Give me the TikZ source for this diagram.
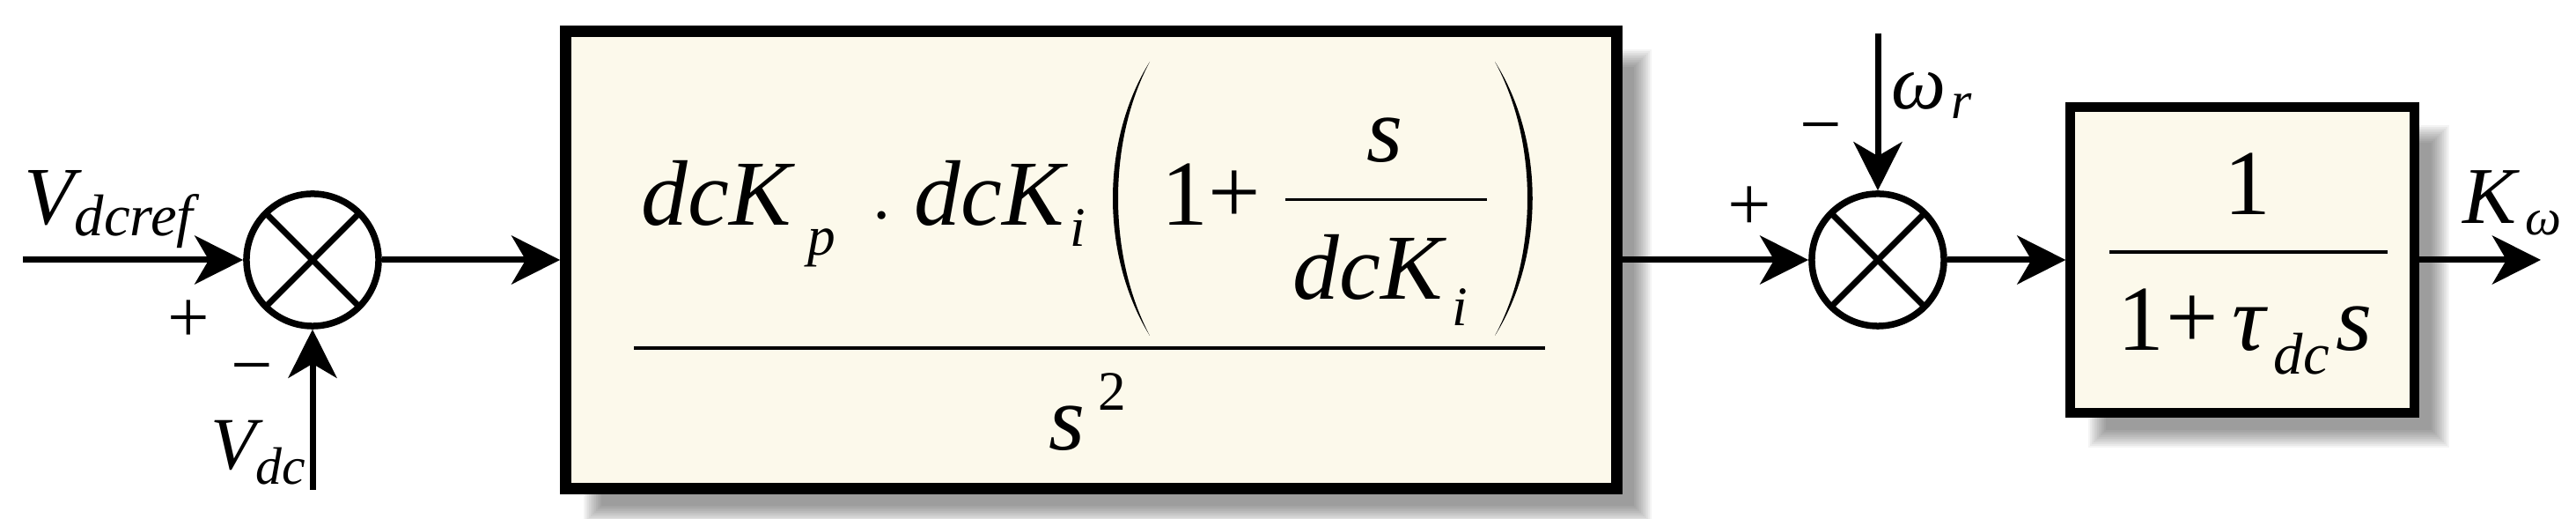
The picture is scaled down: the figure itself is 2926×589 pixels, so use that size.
\documentclass[tikz,border=0pt]{standalone}
\usepackage{fontspec}
\setmainfont{LiberationSerif}[Extension=.ttf,UprightFont=*-Regular,ItalicFont=*-Italic,BoldFont=*-Bold,BoldItalicFont=*-BoldItalic]
\usetikzlibrary{arrows.meta,calc}
\definecolor{cream}{HTML}{FCF9EB}
\newcommand\myfs[1]{\fontsize{#1}{#1}\selectfont}
\begin{document}
\begin{tikzpicture}[x=0.01cm,y=-0.01cm,
  conn/.style={line width=0.07cm,-{Stealth[length=0.55cm,width=0.55cm,inset=0.16cm]}},
  sumnode/.style={circle,draw,line width=0.075cm,minimum size=1.5cm,inner sep=0,fill=white},
  blk/.style={rectangle,draw,fill=cream,inner sep=0},
  t/.style={inner sep=0,anchor=base west},
  tc/.style={inner sep=0,anchor=base},
  var/.style={t,font=\myfs{30}\itshape},
  sub/.style={t,font=\myfs{18}\itshape},
  bar/.style={line width=0.045cm}]
\useasboundingbox (0,0) rectangle (2926,589);
% shadows
\foreach \e in {-10,-8,...,10}{
  \fill[black,opacity=0.045] ({673-(\e)},{66-(\e)}) rectangle ({1866+(\e)},{584+(\e)});
  \fill[black,opacity=0.045] ({2382-(\e)},{152-(\e)}) rectangle ({2772+(\e)},{498+(\e)});
}
% blocks
\node[blk,line width=0.13cm,minimum width=11.93cm,minimum height=5.18cm] (b1) at (1239.5,295) {};
\node[blk,line width=0.11cm,minimum width=3.9cm,minimum height=3.46cm] (b2) at (2547,295) {};
% summing junctions
\node[sumnode] (s1) at (355,295) {};
\node[sumnode] (s2) at (2133,295) {};
\foreach \s in {s1,s2}{
  \draw[line width=0.07cm] ($(\s.center)+(45:75)$) -- ($(\s.center)+(225:75)$);
  \draw[line width=0.07cm] ($(\s.center)+(135:75)$) -- ($(\s.center)+(315:75)$);
}
% free ends
\coordinate (in) at (26,295);
\coordinate (vdcin) at (355,556);
\coordinate (wrin) at (2133,38);
\coordinate (out) at (2886,295);
% connectors
\draw[conn] (in) -- (s1);
\draw[conn] (vdcin) -- (s1);
\draw[conn] (s1) -- (b1);
\draw[conn] (b1) -- (s2);
\draw[conn] (wrin) -- (s2);
\draw[conn] (s2) -- (b2);
\draw[conn] (b2) -- (out);
% left labels
\node[t,font=\myfs{26.5}\itshape] (vref) at (27,255) {V};
\node[t,font=\myfs{19}\itshape] (vrefs) at (84,268) {dcref};
\node[inner sep=0,font=\myfs{24}] (p1) at (214,365) {+};
\node[inner sep=0,font=\myfs{24}] (m1) at (286,427) {−};
\node[t,font=\myfs{24}\itshape] (vdc) at (239,533) {V};
\node[t,font=\myfs{17}\itshape] (vdcs) at (290,550) {dc};
% big formula
\node[var] (f1) at (728,256) {dcK};
\node[sub] (f2) at (917,290) {p};
\node[tc,font=\myfs{30}] (f3) at (1002,267) {$\cdot$};
\node[var] (f4) at (1038,256) {dcK};
\node[sub] (f5) at (1215,280) {i};
\fill (1306,70) .. controls (1250,160) and (1250,290) .. (1306,381)
      .. controls (1258,290) and (1258,160) .. (1306,70) -- cycle;
\node[t,font=\myfs{30}] (f6) at (1319,256) {1};
\node[tc,font=\myfs{30}] (f7) at (1402,254) {+};
\draw[line width=0.03cm] (1460,227) -- (1689,227);
\node[var] (f8) at (1552,184) {s};
\node[var] (f9) at (1468,340) {dcK};
\node[sub] (f10) at (1649,370) {i};
\fill (1698,70) .. controls (1755,160) and (1755,290) .. (1698,381)
      .. controls (1747.3,290) and (1747.3,160) .. (1698,70) -- cycle;
\draw[bar] (720,395) -- (1755,395);
\node[var] (f11) at (1191,511) {s};
\node[t,font=\myfs{18}] (f12) at (1247,466) {2};
% second junction labels
\node[inner sep=0,font=\myfs{25}] (p2) at (1987,237) {+};
\node[inner sep=0,font=\myfs{24}] (m2) at (2068,154) {−};
\node[t,font=\myfs{25}\itshape] (wr) at (2148,124) {ω};
\node[t,font=\myfs{17}\itshape] (wrs) at (2216,135) {r};
% small block formula
\node[tc,font=\myfs{30}] (g1) at (2553,244) {1};
\draw[bar] (2396,286) -- (2712,286);
\node[t,font=\myfs{30}] (g2) at (2405,398) {1};
\node[tc,font=\myfs{30}] (g3) at (2490,396) {+};
\node[var] (g4) at (2535,398) {τ};
\node[t,font=\myfs{19}\itshape] (g5) at (2582,425) {dc};
\node[var] (g6) at (2653,398) {s};
% output label
\node[t,font=\myfs{26}\itshape] (kw) at (2797,254) {K};
\node[t,font=\myfs{16.5}\itshape] (kws) at (2868,267) {ω};
\end{tikzpicture}
\end{document}
